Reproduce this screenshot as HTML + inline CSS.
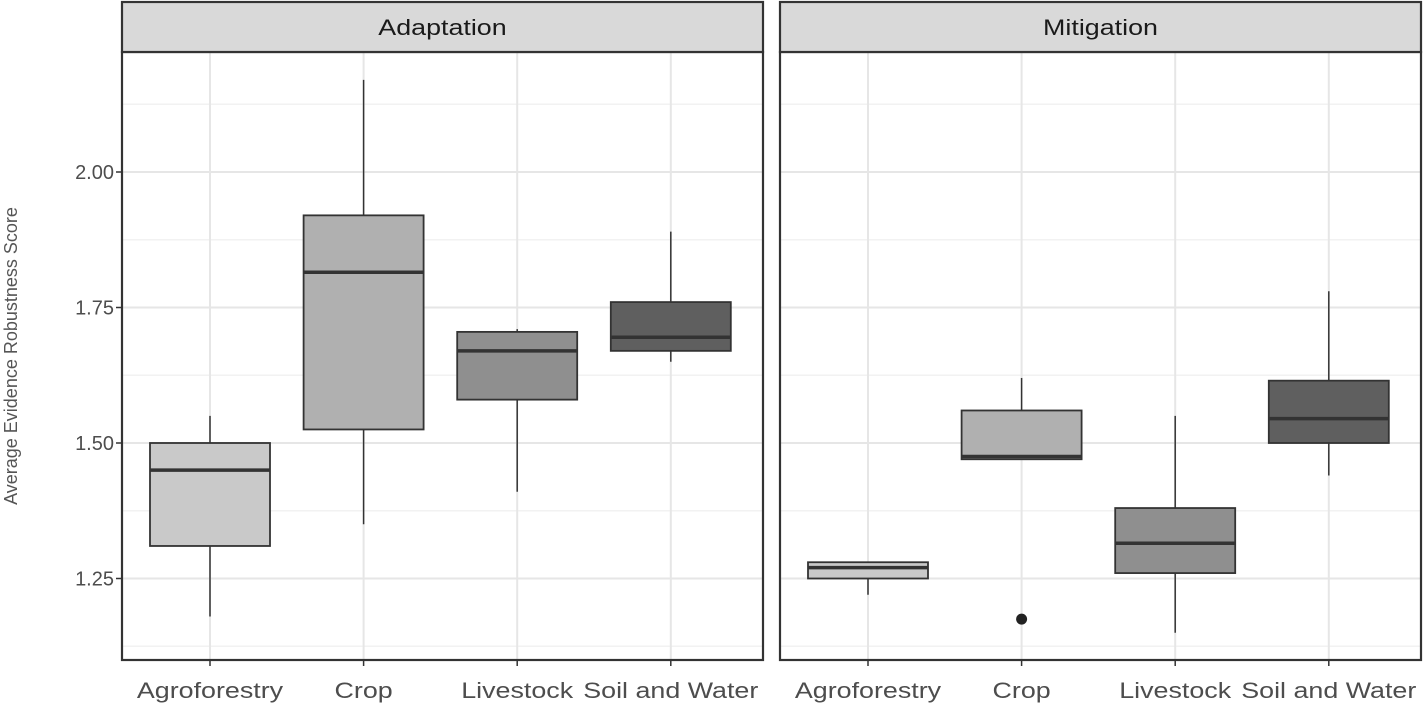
<!DOCTYPE html>
<html><head><meta charset="utf-8">
<style>
body{margin:0;background:#fff;font-family:"Liberation Sans",sans-serif;}
svg{display:block}
</style></head>
<body>
<svg id="chart" width="1425" height="713" viewBox="0 0 1425 713"></svg>
<script>
const categories = ["Agroforestry","Crop","Livestock","Soil and Water"];
const panels = ["Adaptation","Mitigation"];
// [low whisker, Q1, median, Q3, high whisker]
const adaptationStats = [
  [1.18,1.31,1.45,1.50,1.55],
  [1.35,1.525,1.815,1.92,2.17],
  [1.41,1.58,1.67,1.705,1.71],
  [1.65,1.67,1.695,1.76,1.89]
];
const mitigationStats = [
  [1.22,1.25,1.27,1.28,1.28],
  [1.47,1.47,1.475,1.56,1.62],
  [1.15,1.26,1.315,1.38,1.55],
  [1.44,1.50,1.545,1.615,1.78]
];
const mitigationOutliers = [[],[1.175],[],[]];
const yTicks = [1.25,1.50,1.75,2.00];
const yTickLabels = ["1.25","1.50","1.75","2.00"];
const yMinor = [1.125,1.375,1.625,1.875,2.125];

const NS="http://www.w3.org/2000/svg";
const svg=document.getElementById('chart');
const fills=["#c9c9c9","#b0b0b0","#8f8f8f","#5f5f5f"];
function yScale(v){return 172+(2-v)*542;}
const panelX=[122,780], panelW=641, plotTop=52, plotBottom=660;
function xs(p,i){return panelX[p]+88+i*153.6;}
function mk(t,a){const e=document.createElementNS(NS,t);for(const k in a)e.setAttribute(k,a[k]);svg.appendChild(e);return e;}
function stretch(t,f){const w=t.getComputedTextLength();t.setAttribute('textLength',w*f);t.setAttribute('lengthAdjust','spacingAndGlyphs');}
const yt=mk('text',{x:0,y:0,transform:'translate(17,356) rotate(-90)','text-anchor':'middle','font-size':18,fill:'#555'});
yt.textContent="Average Evidence Robustness Score";


panels.forEach((name,p)=>{
  const x0=panelX[p];
  const g=mk('rect',{x:x0,y:plotTop,width:panelW,height:plotBottom-plotTop,fill:'#fff'});
  
  
  yMinor.forEach(v=>{mk('line',{x1:x0,x2:x0+panelW,y1:yScale(v),y2:yScale(v),stroke:'#f2f2f2','stroke-width':1.5});});
  yTicks.forEach(v=>{mk('line',{x1:x0,x2:x0+panelW,y1:yScale(v),y2:yScale(v),stroke:'#e6e6e6','stroke-width':2});});
  categories.forEach((c,i)=>{mk('line',{x1:xs(p,i),x2:xs(p,i),y1:plotTop,y2:plotBottom,stroke:'#e6e6e6','stroke-width':2});});
  const stats=p===0?adaptationStats:mitigationStats;
  stats.forEach((s,i)=>{
    const cx=xs(p,i),hw=60;
    const wl=mk('line',{x1:cx,x2:cx,y1:yScale(s[0]),y2:yScale(s[4]),stroke:'#333','stroke-width':1.5});
    
    
    const b=mk('rect',{x:cx-hw,y:yScale(s[3]),width:hw*2,height:Math.max(1,yScale(s[1])-yScale(s[3])),fill:fills[i],stroke:'#333','stroke-width':1.8});
    
    
    mk('line',{x1:cx-hw,x2:cx+hw,y1:yScale(s[2]),y2:yScale(s[2]),stroke:'#333','stroke-width':3.5});
    if(p===1){mitigationOutliers[i].forEach(v=>{
      const o=mk('circle',{cx:cx,cy:yScale(v),r:5.5,fill:'#222'});
      
      
    });}
    mk('line',{x1:cx,x2:cx,y1:plotBottom,y2:plotBottom+6,stroke:'#333','stroke-width':1.5});
    const t=mk('text',{x:cx,y:698,'text-anchor':'middle','font-size':22,fill:'#4d4d4d'});
    t.textContent=categories[i];
    
    
    stretch(t,1.22);
  });
  mk('rect',{x:x0,y:plotTop,width:panelW,height:plotBottom-plotTop,fill:'none',stroke:'#333','stroke-width':2.2});
  const strip=mk('rect',{x:x0,y:2,width:panelW,height:50,fill:'#d9d9d9',stroke:'#333','stroke-width':2.2});
  
  
  const st=mk('text',{x:x0+panelW/2,y:35,'text-anchor':'middle','font-size':22,fill:'#1a1a1a'});
  st.textContent=name;
  
  
  stretch(st,1.22);
});
yTicks.forEach((v,k)=>{
  mk('line',{x1:116,x2:122,y1:yScale(v),y2:yScale(v),stroke:'#333','stroke-width':1.5});
  const t=mk('text',{x:114,y:yScale(v)+7,'text-anchor':'end','font-size':20,fill:'#4d4d4d'});
  t.textContent=yTickLabels[k];
  
  
});
</script>
</body></html>
